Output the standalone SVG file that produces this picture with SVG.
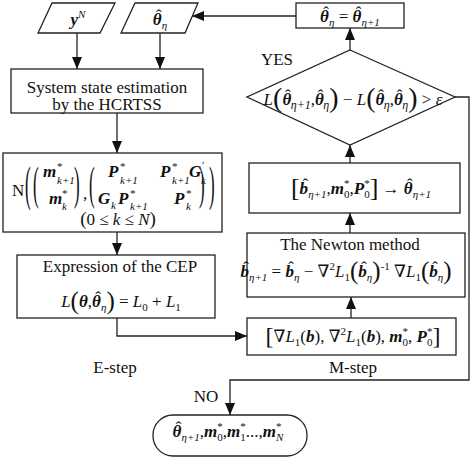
<svg xmlns="http://www.w3.org/2000/svg" width="474" height="459" viewBox="0 0 474 459">
<style>
text { font-family: "Liberation Serif", "Times New Roman", "DejaVu Serif", serif; fill: #111; font-size: 17px; }
.bi { font-weight: bold; font-style: italic; }
.it { font-style: italic; }
.s { font-size: 11px; font-style: italic; }
.sr { font-size: 11px; }
.box { fill: #fff; stroke: #222; stroke-width: 1.3; }
.ln { fill: none; stroke: #222; stroke-width: 1.3; }
.c { text-anchor: middle; }
</style>
<defs>
<marker id="ah" markerUnits="userSpaceOnUse" markerWidth="12" markerHeight="10" refX="12" refY="5" orient="auto">
<path d="M0,0 L12,5 L0,10 z" fill="#111"/>
</marker>
</defs>
<rect width="474" height="459" fill="#fff"/>

<g id="connectors">
<line class="ln" x1="77" y1="33" x2="77" y2="69" marker-end="url(#ah)"/>
<line class="ln" x1="160" y1="33" x2="160" y2="69" marker-end="url(#ah)"/>
<line class="ln" x1="117" y1="113" x2="117" y2="153" marker-end="url(#ah)"/>
<line class="ln" x1="117" y1="232" x2="117" y2="255" marker-end="url(#ah)"/>
<polyline class="ln" points="117,318 117,336 247,336" marker-end="url(#ah)"/>
<line class="ln" x1="351" y1="318" x2="351" y2="297" marker-end="url(#ah)"/>
<line class="ln" x1="350" y1="233" x2="350" y2="213" marker-end="url(#ah)"/>
<line class="ln" x1="350" y1="163" x2="350" y2="145" marker-end="url(#ah)"/>
<line class="ln" x1="350" y1="50" x2="350" y2="28" marker-end="url(#ah)"/>
<line class="ln" x1="296" y1="16" x2="192" y2="16" marker-end="url(#ah)"/>
<polyline class="ln" points="455,97 469,97 469,380 230,380 230,415" marker-end="url(#ah)"/>
<text x="277" y="65" class="c">YES</text>
<text x="206" y="402" class="c">NO</text>
<text x="115" y="373" class="c">E-step</text>
<text x="353" y="373" class="c">M-step</text>
</g>

<g id="yN">
<polygon class="box" points="52,3 115,3 100,33 38,33"/>
<text x="78" y="25" class="c"><tspan class="bi">y</tspan><tspan class="s" dy="-7">N</tspan></text>
</g>

<g id="theta-eta">
<polygon class="box" points="135,3 198,3 185,33 121,33"/>
<text x="160" y="25" class="c"><tspan class="bi">θ</tspan><tspan dx="-5.6" dy="-4">ˆ</tspan><tspan class="s" dy="8">η</tspan></text>
</g>

<g id="update">
<rect class="box" x="296" y="3" width="108" height="25"/>
<text x="350" y="22" class="c"><tspan class="bi">θ</tspan><tspan dx="-5.6" dy="-4">ˆ</tspan><tspan class="s" dy="8">η</tspan><tspan dy="-4"> = </tspan><tspan class="bi">θ</tspan><tspan dx="-5.6" dy="-4">ˆ</tspan><tspan class="s" dy="8">η+1</tspan></text>
</g>

<g id="system">
<rect class="box" x="11" y="69" width="192" height="44"/>
<text x="107" y="93" class="c">System state estimation</text>
<text x="107" y="110" class="c">by the HCRTSS</text>
</g>

<g id="gauss">
<rect class="box" x="3" y="153" width="219" height="79"/>
<text x="12" y="196">N</text>
<text transform="translate(25,200) scale(1,2.9)" font-size="22">(</text>
<text transform="translate(33,199) scale(1,2.75)" font-size="22">(</text>
<text x="43" y="177" class="bi">m</text>
<text x="57" y="170" class="sr">*</text>
<text x="57" y="184" class="s">k+1</text>
<text x="49" y="204" class="bi">m</text>
<text x="62" y="197" class="sr">*</text>
<text x="62" y="210" class="s">k</text>
<text transform="translate(74,199) scale(1,2.75)" font-size="22">)</text>
<text x="83" y="199">,</text>
<text transform="translate(89,199) scale(1,2.75)" font-size="22">(</text>
<text x="108" y="177" class="bi">P</text>
<text x="120" y="170" class="sr">*</text>
<text x="120" y="184" class="s">k+1</text>
<text x="160" y="177" class="bi">P</text>
<text x="172" y="170" class="sr">*</text>
<text x="172" y="184" class="s">k+1</text>
<text x="189" y="177" class="bi">G</text>
<text x="202" y="169" class="sr">′</text>
<text x="201" y="184" class="s">k</text>
<text x="98" y="204" class="bi">G</text>
<text x="111" y="209" class="s">k</text>
<text x="118" y="204" class="bi">P</text>
<text x="130" y="197" class="sr">*</text>
<text x="130" y="210" class="s">k+1</text>
<text x="174" y="204" class="bi">P</text>
<text x="186" y="197" class="sr">*</text>
<text x="186" y="210" class="s">k</text>
<text transform="translate(199,199) scale(1,2.75)" font-size="22">)</text>
<text transform="translate(209,200) scale(1,2.9)" font-size="22">)</text>
<text x="118" y="225" class="c"><tspan font-size="19">(</tspan><tspan>0 ≤ </tspan><tspan class="it">k</tspan><tspan> ≤ </tspan><tspan class="it">N</tspan><tspan font-size="19">)</tspan></text>
</g>

<g id="cep">
<rect class="box" x="17" y="255" width="198" height="63"/>
<text x="120" y="272" class="c">Expression of the CEP</text>
<text x="121" y="307" class="c"><tspan class="it">L</tspan><tspan font-size="25" dy="2">(</tspan><tspan class="bi" dy="-2">θ</tspan><tspan>,</tspan><tspan class="bi">θ</tspan><tspan dx="-5.6" dy="-4">ˆ</tspan><tspan class="s" dy="8">η</tspan><tspan font-size="25" dy="-2">)</tspan><tspan dy="-2"> = </tspan><tspan class="it">L</tspan><tspan class="sr" dy="4">0</tspan><tspan dy="-4"> + </tspan><tspan class="it">L</tspan><tspan class="sr" dy="4">1</tspan></text>
</g>

<g id="diamond">
<polygon class="box" points="350,50 455,97 350,145 247,97"/>
<text x="353" y="105" class="c" font-size="19"><tspan class="it">L</tspan><tspan font-size="28" dy="2">(</tspan><tspan class="bi" dy="-2">θ</tspan><tspan dx="-6.2" dy="-4">ˆ</tspan><tspan font-size="12" font-style="italic" dy="8">η+1</tspan><tspan dy="-4">,</tspan><tspan class="bi">θ</tspan><tspan dx="-6.2" dy="-4">ˆ</tspan><tspan font-size="12" font-style="italic" dy="8">η</tspan><tspan font-size="28" dy="-2">)</tspan><tspan dy="-2"> − </tspan><tspan class="it">L</tspan><tspan font-size="28" dy="2">(</tspan><tspan class="bi" dy="-2">θ</tspan><tspan dx="-6.2" dy="-4">ˆ</tspan><tspan font-size="12" font-style="italic" dy="8">η</tspan><tspan dy="-4">,</tspan><tspan class="bi">θ</tspan><tspan dx="-6.2" dy="-4">ˆ</tspan><tspan font-size="12" font-style="italic" dy="8">η</tspan><tspan font-size="28" dy="-2">)</tspan><tspan dy="-2"> &gt; </tspan><tspan class="it">ε</tspan></text>
</g>

<g id="params">
<rect class="box" x="249" y="163" width="211" height="50"/>
<text x="361" y="194" class="c"><tspan font-size="26" dy="2">[</tspan><tspan class="bi" dy="-2">b</tspan><tspan dx="-5.6" dy="-4">ˆ</tspan><tspan class="s" dy="8">η+1</tspan><tspan dy="-4">,</tspan><tspan class="bi">m</tspan><tspan class="sr" dy="-7">*</tspan><tspan class="sr" dx="-5.5" dy="11">0</tspan><tspan dy="-4">,</tspan><tspan class="bi">P</tspan><tspan class="sr" dy="-7">*</tspan><tspan class="sr" dx="-5.5" dy="11">0</tspan><tspan font-size="26" dy="-2">]</tspan><tspan dy="-2"> → </tspan><tspan class="bi">θ</tspan><tspan dx="-5.6" dy="-4">ˆ</tspan><tspan class="s" dy="8">η+1</tspan></text>
</g>

<g id="newton">
<rect class="box" x="247" y="233" width="218" height="64"/>
<text x="350" y="250" class="c">The Newton method</text>
<text x="346" y="277" class="c"><tspan class="bi">b</tspan><tspan dx="-5.6" dy="-4">ˆ</tspan><tspan class="s" dy="8">η+1</tspan><tspan dy="-4"> = </tspan><tspan class="bi">b</tspan><tspan dx="-5.6" dy="-4">ˆ</tspan><tspan class="s" dy="8">η</tspan><tspan dy="-4"> − ∇</tspan><tspan class="sr" dy="-7">2</tspan><tspan class="it" dy="7">L</tspan><tspan class="sr" dy="4">1</tspan><tspan font-size="25" dy="-2">(</tspan><tspan class="bi" dy="-2">b</tspan><tspan dx="-5.6" dy="-4">ˆ</tspan><tspan class="s" dy="8">η</tspan><tspan font-size="25" dy="-2">)</tspan><tspan class="sr" dy="-9">-1</tspan><tspan dy="7"> ∇</tspan><tspan class="it">L</tspan><tspan class="sr" dy="4">1</tspan><tspan font-size="25" dy="-2">(</tspan><tspan class="bi" dy="-2">b</tspan><tspan dx="-5.6" dy="-4">ˆ</tspan><tspan class="s" dy="8">η</tspan><tspan font-size="25" dy="-2">)</tspan></text>
</g>

<g id="mstep">
<rect class="box" x="247" y="318" width="209" height="37"/>
<text x="353" y="342" class="c"><tspan font-size="24" dy="2">[</tspan><tspan dy="-2">∇</tspan><tspan class="it">L</tspan><tspan class="sr" dy="4">1</tspan><tspan dy="-4">(</tspan><tspan class="bi">b</tspan><tspan>), ∇</tspan><tspan class="sr" dy="-7">2</tspan><tspan class="it" dy="7">L</tspan><tspan class="sr" dy="4">1</tspan><tspan dy="-4">(</tspan><tspan class="bi">b</tspan><tspan>), </tspan><tspan class="bi">m</tspan><tspan class="sr" dy="-7">*</tspan><tspan class="sr" dx="-5.5" dy="11">0</tspan><tspan dy="-4">, </tspan><tspan class="bi">P</tspan><tspan class="sr" dy="-7">*</tspan><tspan class="sr" dx="-5.5" dy="11">0</tspan><tspan font-size="24" dy="-2">]</tspan></text>
</g>

<g id="result">
<rect class="box" x="153" y="415" width="154" height="41" rx="20" ry="20"/>
<text x="228" y="437" class="c"><tspan class="bi">θ</tspan><tspan dx="-5.6" dy="-4">ˆ</tspan><tspan class="s" dy="8">η+1</tspan><tspan dy="-4">,</tspan><tspan class="bi">m</tspan><tspan class="sr" dy="-7">*</tspan><tspan class="sr" dx="-5.5" dy="11">0</tspan><tspan dy="-4">,</tspan><tspan class="bi">m</tspan><tspan class="sr" dy="-7">*</tspan><tspan class="sr" dx="-5.5" dy="11">1</tspan><tspan dy="-4">...,</tspan><tspan class="bi">m</tspan><tspan class="sr" dy="-7">*</tspan><tspan class="s" dx="-5.5" dy="11">N</tspan></text>
</g>
</svg>
